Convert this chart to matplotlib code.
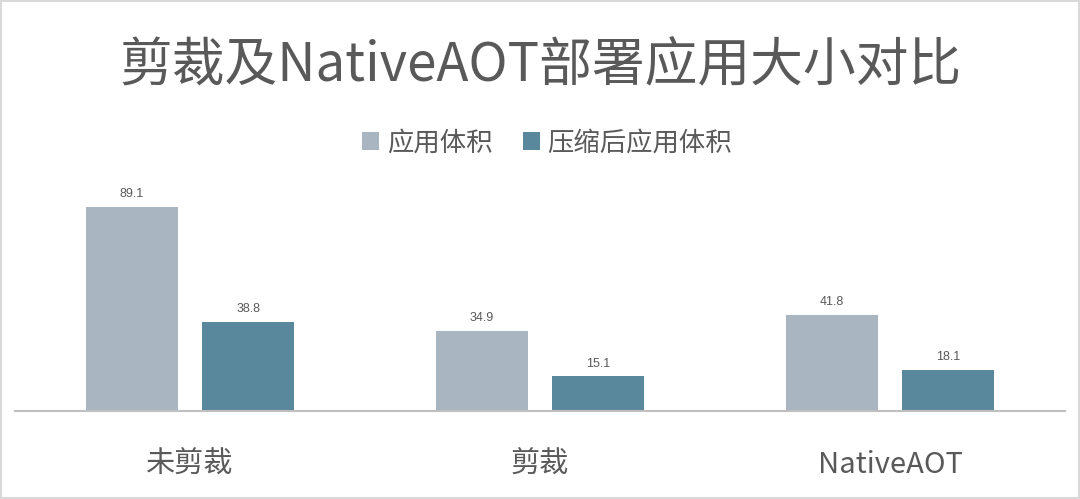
import numpy as np
import matplotlib
matplotlib.use("Agg")
import matplotlib.pyplot as plt
from matplotlib.patches import Rectangle

plt.rcParams['font.family'] = ['Noto Sans CJK SC', 'DejaVu Sans']

# data
categories = ['未剪裁', '剪裁', 'NativeAOT']
series_names = ['应用体积', '压缩后应用体积']
app_size = [89.1, 34.9, 41.8]
zip_size = [38.8, 15.1, 18.1]

colors = ['#A9B6C1', '#59879B']
text_gray = '#595959'

fig = plt.figure(figsize=(10.8, 4.99), dpi=100)
ax = fig.add_axes([15 / 1080, (499 - 411) / 499, 1050 / 1080, 229 / 499])

x = np.arange(len(categories))
w = 0.263
off = 0.166
b1 = ax.bar(x - off, app_size, w, color=colors[0], label=series_names[0])
b2 = ax.bar(x + off, zip_size, w, color=colors[1], label=series_names[1])

for bars in (b1, b2):
    for r in bars:
        ax.text(r.get_x() + r.get_width() / 2, r.get_height() + 3.0,
                f'{r.get_height():.1f}', ha='center', va='bottom',
                fontsize=9, color=text_gray, family=['Liberation Sans', 'DejaVu Sans'])

ax.set_xlim(-0.5, 2.5)
ax.set_ylim(0, 100)
ax.set_yticks([])
ax.set_xticks(x)
ax.set_xticklabels(categories, fontsize=21, color=text_gray)
ax.tick_params(axis='x', length=0, pad=28)
for s in ['top', 'right', 'left']:
    ax.spines[s].set_visible(False)
ax.spines['bottom'].set_color('#BFBFBF')
ax.spines['bottom'].set_linewidth(1.5)

fig.text(0.5, 1 - 66 / 499, '剪裁及NativeAOT部署应用大小对比', ha='center', va='center',
         fontsize=38, color=text_gray)

leg = fig.legend(loc='center', bbox_to_anchor=(0.5 + 7 / 1080, 1 - 143 / 499), ncol=2, frameon=False,
                 fontsize=19, handlelength=0.65, handleheight=0.65, handletextpad=0.3,
                 columnspacing=1.15, labelcolor=text_gray)

# light border around the picture
fig.patches.append(Rectangle((0.001, 0.002), 0.998, 0.996, transform=fig.transFigure,
                             fill=False, edgecolor='#D9D9D9', linewidth=1.5))

fig.savefig('out.png', dpi=100)
